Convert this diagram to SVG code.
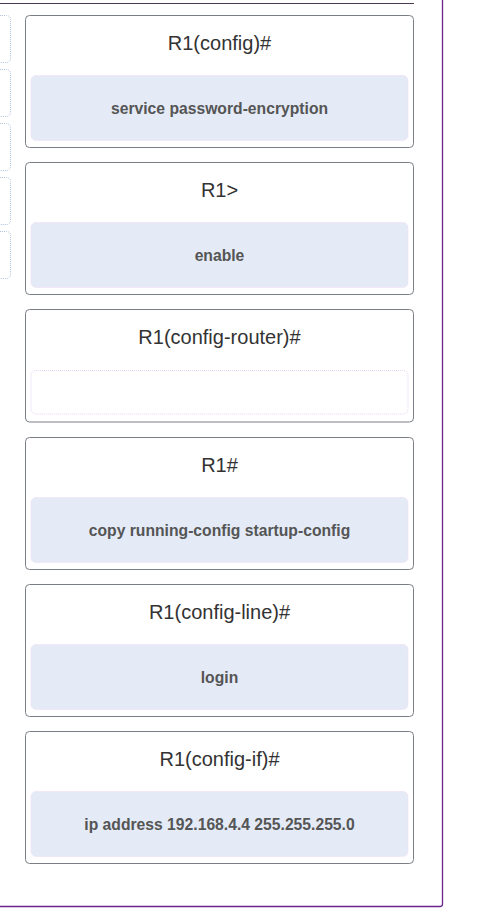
<svg xmlns="http://www.w3.org/2000/svg" width="486" height="919" viewBox="0 0 486 919">
<style>
.card{fill:#fff;stroke:#7a7f86;stroke-width:1}
.slot{fill:#e4ebf7;stroke:#f1dcf4;stroke-width:1;stroke-dasharray:1 1}
.empty{fill:#fff;stroke:#e6d2f2;stroke-width:1;stroke-dasharray:1 1}
.frag{fill:#fff;stroke:#aec3dd;stroke-width:1;stroke-dasharray:1 1}
.title{font-family:"Liberation Sans",Arial,sans-serif;font-size:20px;fill:#333;text-anchor:middle}
.cmd{font-family:"Liberation Sans",Arial,sans-serif;font-size:15.7px;font-weight:bold;fill:#555;text-anchor:middle}
</style>
<rect x="0" y="0" width="486" height="919" fill="#fff"/>
<line x1="0" y1="3.5" x2="414" y2="3.5" stroke="#4a3a56" stroke-width="1"/>
<path d="M442.5 0 V904 Q442.5 906.5 440 906.5 H0" fill="none" stroke="#6b2390" stroke-width="1.3"/>
<g id="fragments">
<rect class="frag" x="-10" y="15.5" width="20.5" height="47" rx="4"/>
<rect class="frag" x="-10" y="69.5" width="20.5" height="47" rx="4"/>
<rect class="frag" x="-10" y="123.5" width="20.5" height="47" rx="4"/>
<rect class="frag" x="-10" y="177.5" width="20.5" height="47" rx="4"/>
<rect class="frag" x="-10" y="231.5" width="20.5" height="47" rx="4"/>
</g>
<g id="connectors"></g>
<g id="card1">
<rect class="card" x="25.5" y="15.5" width="388" height="132" rx="4"/>
<text class="title" x="219.5" y="49.5">R1(config)#</text>
<rect class="slot" x="31" y="75.5" width="377" height="65" rx="5"/>
<text class="cmd" x="219.5" y="113.5">service password-encryption</text>
</g>
<g id="card2">
<rect class="card" x="25.5" y="162.5" width="388" height="132" rx="4"/>
<text class="title" x="219.5" y="196.5">R1&gt;</text>
<rect class="slot" x="31" y="222.5" width="377" height="65" rx="5"/>
<text class="cmd" x="219.5" y="260.5">enable</text>
</g>
<g id="card3">
<rect class="card" x="25.5" y="309.5" width="388" height="112.5" rx="4"/>
<text class="title" x="219.5" y="343.5">R1(config-router)#</text>
<rect class="empty" x="31" y="370.5" width="377" height="43.5" rx="5"/>
</g>
<g id="card4">
<rect class="card" x="25.5" y="437.5" width="388" height="132" rx="4"/>
<text class="title" x="219.5" y="471.5">R1#</text>
<rect class="slot" x="31" y="497.5" width="377" height="65" rx="5"/>
<text class="cmd" x="219.5" y="535.5">copy running-config startup-config</text>
</g>
<g id="card5">
<rect class="card" x="25.5" y="584.5" width="388" height="132" rx="4"/>
<text class="title" x="219.5" y="618.5">R1(config-line)#</text>
<rect class="slot" x="31" y="644.5" width="377" height="65" rx="5"/>
<text class="cmd" x="219.5" y="682.5">login</text>
</g>
<g id="card6">
<rect class="card" x="25.5" y="731.5" width="388" height="132" rx="4"/>
<text class="title" x="219.5" y="765.5">R1(config-if)#</text>
<rect class="slot" x="31" y="791.5" width="377" height="65" rx="5"/>
<text class="cmd" x="219.5" y="829.5">ip address 192.168.4.4 255.255.255.0</text>
</g>
</svg>
